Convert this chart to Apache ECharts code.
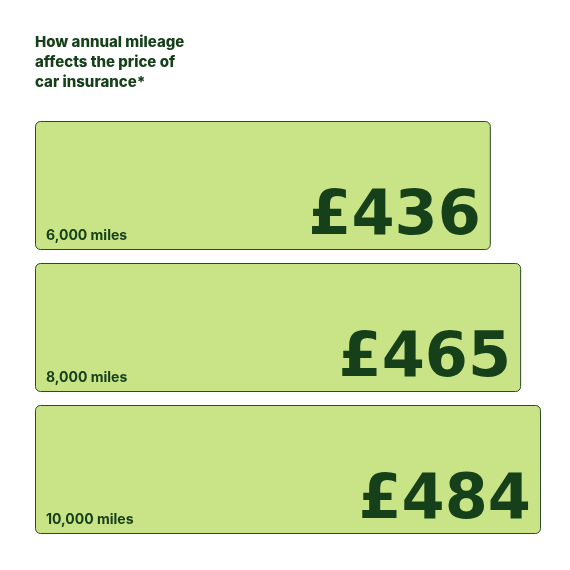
<!DOCTYPE html>
<html>
<head>
<meta charset="UTF-8">
<script src="https://cdn.jsdelivr.net/npm/echarts@6/dist/echarts.min.js"></script>
<style>body{margin:0;background:#fff}</style>
</head>
<body>
<div id="main" style="width:570px;height:570px;"></div>
<script>
var categories = ['6,000 miles', '8,000 miles', '10,000 miles'];
var prices = [436, 465, 484];

var dark = '#16401a';
var myChart = echarts.init(document.getElementById('main'));

var option = {
    animation: false,
    title: {
        text: 'How annual mileage\naffects the price of\ncar insurance*',
        left: 30, top: 27,
        textStyle: { fontFamily: 'Inter', fontSize: 15, fontWeight: 800, color: dark, lineHeight: 20 }
    },
    grid: { left: 35, top: 114.5, width: 506, height: 426 },
    xAxis: { type: 'value', min: 0, max: 484, show: false },
    yAxis: { type: 'category', data: categories, inverse: true, show: false },
    series: [
        {
            type: 'bar',
            data: prices,
            barWidth: 129,
            itemStyle: { color: '#c9e487', borderColor: '#2a4a2a', borderWidth: 1, borderRadius: 5 },
            label: {
                show: true, position: 'insideBottomLeft', distance: 0, offset: [11, -7],
                formatter: function (p) { return categories[p.dataIndex]; },
                fontFamily: 'Inter', fontSize: 14, fontWeight: 'bold', color: dark
            }
        },
        {
            type: 'bar',
            data: prices,
            barWidth: 129,
            barGap: '-100%',
            itemStyle: { color: 'transparent' },
            label: {
                show: true, position: 'insideBottomRight', distance: 0, offset: [-10, -1],
                formatter: function (p) { return '£' + p.value; },
                fontFamily: 'DejaVu Sans', fontSize: 62, fontWeight: 'bold', color: dark
            }
        }
    ]
};
myChart.setOption(option);
</script>
</body>
</html>
